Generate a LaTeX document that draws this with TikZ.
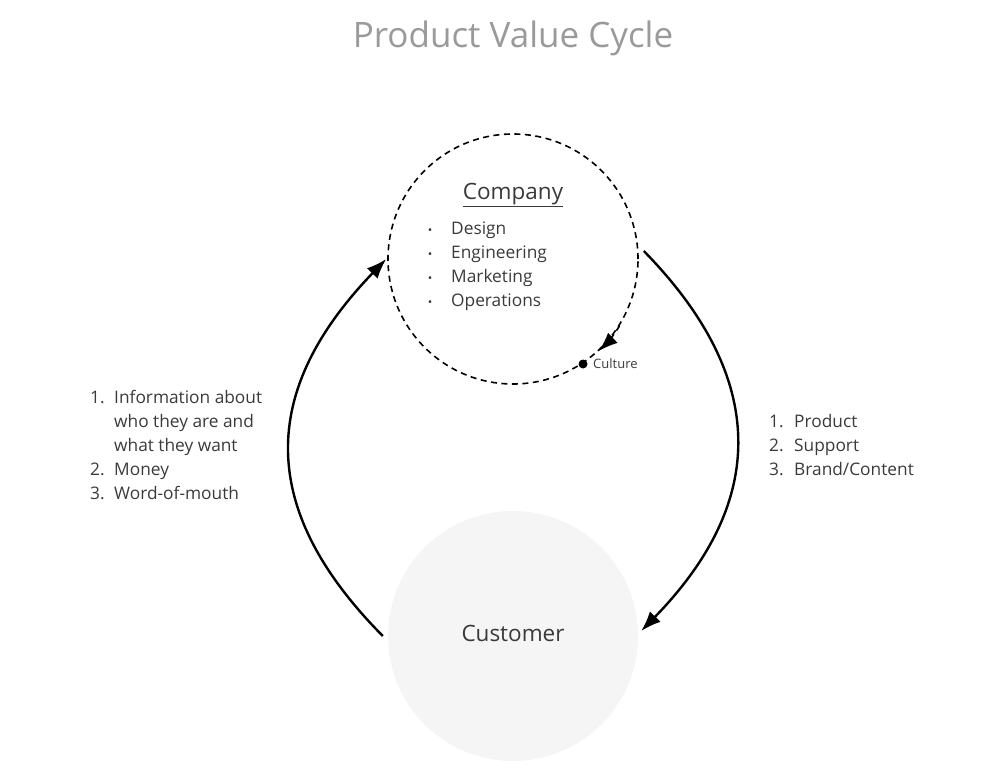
\documentclass[tikz,border=0pt]{standalone}
\usepackage{fontspec}
\setmainfont{Open Sans}
\usetikzlibrary{arrows.meta}
\definecolor{txt}{HTML}{3A3A3A}
\definecolor{ttl}{HTML}{9A9A9A}
\definecolor{custfill}{HTML}{F5F5F5}
\tikzset{
  itm/.style={anchor=base west, inner sep=0pt, text=txt, font=\fontsize{17.3}{24}\selectfont},
  bul/.style={anchor=base, inner sep=0pt, text=txt, font=\fontsize{12}{14}\selectfont},
  flow/.style={line width=2.4pt, -{Latex[length=20pt,width=15pt]}},
}
\begin{document}
\begin{tikzpicture}[x=1pt,y=-1pt]
\useasboundingbox (0,0) rectangle (1000,770);
% title
\node[anchor=base, inner sep=0pt, text=ttl, font=\fontsize{35}{40}\selectfont] (title) at (513,48) {Product Value Cycle};
% circles
\node[circle, minimum size=250pt, inner sep=0pt, draw=black, line width=1.6pt, dash pattern=on 6pt off 4.5pt] (comp) at (513,259) {};
\node[circle, minimum size=250pt, inner sep=0pt, fill=custfill] (cust) at (513,636) {};
\node[anchor=base, inner sep=0pt, text=txt, font=\fontsize{22.5}{24}\selectfont] (custlbl) at (513,641) {Customer};
% company content
\node[anchor=base, inner sep=0pt, text=txt, font=\fontsize{22.5}{24}\selectfont] (ctitle) at (513,199) {\underline{Company}};
\node[bul] (b1) at (430,234) {•};
\node[bul] (b2) at (430,258) {•};
\node[bul] (b3) at (430,282) {•};
\node[bul] (b4) at (430,306) {•};
\node[itm] (c1) at (451,234) {Design};
\node[itm] (c2) at (451,258) {Engineering};
\node[itm] (c3) at (451,282) {Marketing};
\node[itm] (c4) at (451,306) {Operations};
% culture
\draw[line width=1.6pt, dash pattern=on 6pt off 4.5pt, -{Latex[length=19pt,width=14pt]}] (comp.-32) arc[start angle=-32, end angle=-47, radius=125pt];
\node[circle, fill=black, inner sep=0pt, minimum size=9pt] (cdot) at (583,364) {};
\node[anchor=base west, inner sep=0pt, text=txt, font=\fontsize{13}{14}\selectfont] (culture) at (593,368) {Culture};
% flows
\draw[flow] ([xshift=-5pt]cust.west) .. controls (258,510) and (258,392) .. ([xshift=-1pt]comp.west);
\draw[flow] ([xshift=5pt,yshift=8pt]comp.east) .. controls (768,378) and (768,501) .. ([xshift=3pt,yshift=5pt]cust.east);
% left list
\node[itm] (l1n) at (90,403) {1.};
\node[itm] (l1) at (114,403) {Information about};
\node[itm] (l1b) at (114,427) {who they are and};
\node[itm] (l1c) at (114,451) {what they want};
\node[itm] (l2n) at (90,475) {2.};
\node[itm] (l2) at (114,475) {Money};
\node[itm] (l3n) at (90,499) {3.};
\node[itm] (l3) at (114,499) {Word-of-mouth};
% right list
\node[itm] (r1n) at (769,427) {1.};
\node[itm] (r1) at (794,427) {Product};
\node[itm] (r2n) at (769,451) {2.};
\node[itm] (r2) at (794,451) {Support};
\node[itm] (r3n) at (769,475) {3.};
\node[itm] (r3) at (794,475) {Brand/Content};
\end{tikzpicture}
\end{document}
